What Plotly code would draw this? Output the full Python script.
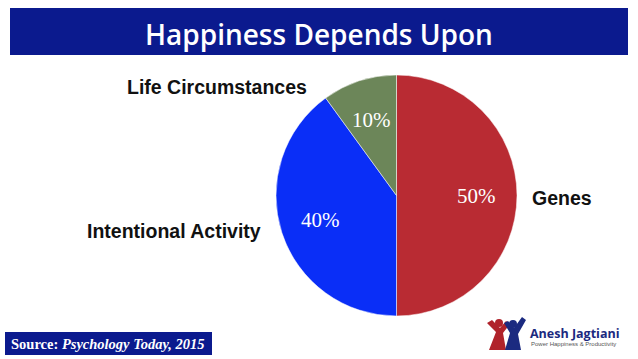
import math
import plotly.graph_objects as go

title_text = "Happiness Depends Upon"
labels = ["Genes", "Intentional Activity", "Life Circumstances"]
values = [50, 40, 10]
colors = ["#B92B33", "#0A2EF7", "#6C8659"]
source_bold = "Source:"
source_italic = "Psychology Today, 2015"
logo_name = "Anesh Jagtiani"
logo_tag = "Power Happiness & Productivity"

W, H = 638, 359
NAVY = "#0B1A8E"
CX, CY, R = 396.5, 195.5, 120.5  # pixel centre and radius of the pie

fig = go.Figure()
fig.add_trace(go.Pie(
    labels=labels, values=values, sort=False, direction="clockwise", rotation=0,
    marker=dict(colors=colors, line=dict(color="white", width=0.5)),
    textinfo="none",
    domain=dict(x=[(CX - R) / W, (CX + R) / W],
                y=[(H - CY - R) / H, (H - CY + R) / H]),
    showlegend=False, hoverinfo="label+percent",
))

# percentage labels placed along each slice's mid-angle (clockwise from 12 o'clock)
total = sum(values)
annotations = []
cum = 0
for v in values:
    mid = (cum + v / 2) / total * 2 * math.pi
    cum += v
    px = CX + 0.66 * R * math.sin(mid)
    py = CY - 0.66 * R * math.cos(mid)
    annotations.append(dict(
        text=f"{round(v / total * 100)}%", x=px / W, y=1 - py / H, xref="paper", yref="paper",
        showarrow=False, font=dict(family="Liberation Serif", size=21, color="white"),
        xanchor="center", yanchor="middle"))

shapes = [
    dict(type="rect", xref="paper", yref="paper", x0=10/W, x1=628/W, y0=1-55/H, y1=1-8/H,
         fillcolor=NAVY, line=dict(width=0), layer="below"),
    dict(type="rect", xref="paper", yref="paper", x0=5/W, x1=212/W, y0=1-355/H, y1=1-332/H,
         fillcolor=NAVY, line=dict(width=0), layer="below"),
    # simple logo figures
    dict(type="path", xref="paper", yref="paper",
         path=f"M {489/W},{1-350/H} L {496/W},{1-332/H} L {487/W},{1-323/H} L {492/W},{1-320/H} L {500/W},{1-328/H} L {506/W},{1-321/H} L {510/W},{1-324/H} L {503/W},{1-333/H} L {506/W},{1-350/H} Z",
         fillcolor="#B0232B", line=dict(width=0)),
    dict(type="circle", xref="paper", yref="paper", x0=495/W, x1=503/W, y0=1-327/H, y1=1-319/H,
         fillcolor="#B0232B", line=dict(width=0)),
    dict(type="path", xref="paper", yref="paper",
         path=f"M {505/W},{1-350/H} L {510/W},{1-333/H} L {504/W},{1-323/H} L {508/W},{1-321/H} L {514/W},{1-328/H} L {522/W},{1-317/H} L {526/W},{1-320/H} L {518/W},{1-334/H} L {521/W},{1-350/H} Z",
         fillcolor="#1B2A80", line=dict(width=0)),
    dict(type="circle", xref="paper", yref="paper", x0=509/W, x1=517/W, y0=1-328/H, y1=1-320/H,
         fillcolor="#1B2A80", line=dict(width=0)),
]

annotations += [
    dict(text=title_text, x=319/W, y=1-34/H, xref="paper", yref="paper",
         showarrow=False, font=dict(family="Open Sans", size=28, weight=600, color="white"),
         xanchor="center", yanchor="middle"),
    dict(text=f"<b>{labels[2]}</b>", x=309/W, y=1-87/H, xref="paper", yref="paper",
         showarrow=False, font=dict(family="Liberation Sans", size=19.5, color="#111111"), xanchor="right", yanchor="middle"),
    dict(text=f"<b>{labels[1]}</b>", x=263/W, y=1-231/H, xref="paper", yref="paper",
         showarrow=False, font=dict(family="Liberation Sans", size=19.5, color="#111111"), xanchor="right", yanchor="middle"),
    dict(text=f"<b>{labels[0]}</b>", x=530/W, y=1-198/H, xref="paper", yref="paper",
         showarrow=False, font=dict(family="Liberation Sans", size=19.5, color="#111111"), xanchor="left", yanchor="middle"),
    dict(text=f"<b>{source_bold}</b> <b><i>{source_italic}</i></b>", x=9/W, y=1-343.5/H, xref="paper", yref="paper",
         showarrow=False, font=dict(family="Liberation Serif", size=14.5, color="white"), xanchor="left", yanchor="middle"),
    dict(text=f"<b>{logo_name}</b>", x=528/W, y=1-333/H, xref="paper", yref="paper",
         showarrow=False, font=dict(family="Open Sans", size=12.5, color="#1B2A80"), xanchor="left", yanchor="middle"),
    dict(text=logo_tag, x=529/W, y=1-344/H, xref="paper", yref="paper",
         showarrow=False, font=dict(family="Liberation Sans", size=6, color="#555555"), xanchor="left", yanchor="middle"),
]

fig.update_layout(
    width=W, height=H, margin=dict(l=0, r=0, t=0, b=0),
    paper_bgcolor="white", plot_bgcolor="white",
    shapes=shapes, annotations=annotations,
)

fig.write_html("out.html", config={"displayModeBar": False},
               post_script="document.body.style.margin='0';document.body.style.padding='0';")
